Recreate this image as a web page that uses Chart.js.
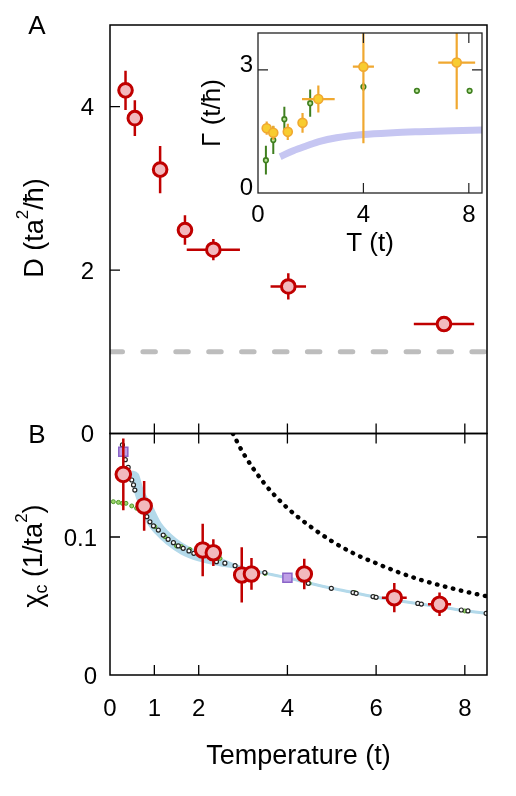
<!DOCTYPE html>
<html>
<head>
<meta charset="utf-8">
<script src="https://cdn.jsdelivr.net/npm/chart.js@4.4.0/dist/chart.umd.min.js"></script>
<style>
  html, body { margin: 0; padding: 0; background: #fff; }
  #wrap { position: relative; width: 516px; height: 796px; }
  canvas { position: absolute; left: 0; top: 0; }
</style>
</head>
<body>
<div id="wrap">
  <canvas id="panel-b" width="516" height="796"></canvas>
  <canvas id="panel-a" width="516" height="796"></canvas>
  <canvas id="inset" width="516" height="796"></canvas>
</div>
<script>
// ---- panel A: D vs temperature ----
const diffT    = [0.35, 0.56, 1.13, 1.69, 2.33, 4.02, 7.53];
const diffD    = [4.20, 3.86, 3.23, 2.49, 2.25, 1.80, 1.34];
const diffErrT = [0, 0, 0, 0, 0.60, 0.40, 0.68];
const diffErrD = [0.24, 0.22, 0.29, 0.18, 0.13, 0.16, 0.04];
const limitT   = [0, 8.5];
const limitD   = [1, 1];
const diffTicks = [0, 2, 4];

// ---- inset: Gamma vs T ----
const rateT     = [0.33, 0.58, 1.13, 1.69, 2.29, 4.00, 7.54];
const rate      = [1.58, 1.47, 1.49, 1.71, 2.29, 3.08, 3.18];
const rateErrT  = [0, 0, 0, 0, 0.62, 0.40, 0.70];
const rateErr   = [0.16, 0.17, 0.20, 0.24, 0.33, 1.87, 1.14];
const simRateT  = [0.30, 0.58, 1.00, 1.98, 4.00, 6.03, 8.03];
const simRate   = [0.80, 1.29, 1.80, 2.19, 2.59, 2.49, 2.49];
const simRateErr = [0.35, 0.34, 0.30, 0.33, 0.10, 0.05, 0.03];
const bandRateT = [0.84, 1.34, 1.85, 2.35, 2.98, 3.99, 5.13, 6.14, 7.40, 8.50];
const bandRate  = [0.885, 1.03, 1.15, 1.26, 1.345, 1.425, 1.47, 1.495, 1.52, 1.535];
const insetTicksT = [0, 4, 8];
const insetTicksG = [0, 3];

// ---- panel B: chi_c vs temperature ----
const chiT    = [0.30, 0.77, 2.09, 2.33, 2.97, 3.19, 4.38, 6.41, 7.43];
const chi     = [0.1454, 0.1225, 0.0906, 0.0886, 0.0725, 0.0732, 0.0732, 0.0560, 0.0512];
const chiErrT = [0, 0, 0, 0, 0, 0, 0.19, 0.28, 0.26];
const chiErr  = [0.026, 0.018, 0.019, 0.0097, 0.020, 0.0115, 0.011, 0.0106, 0.0085];
const sqT     = [0.30, 4.00];
const sqChi   = [0.1618, 0.0705];
const curieT  = [2.77, 3.0, 3.5, 4.0, 4.5, 5.0, 5.5, 6.0, 6.5, 7.0, 7.5, 8.0, 8.5];
const curie   = [0.175, 0.161, 0.138, 0.121, 0.108, 0.097, 0.088, 0.081, 0.0745, 0.069, 0.0645, 0.0605, 0.057];
const qmcT    = [0.28, 0.32, 0.345, 0.41, 0.49, 0.53, 0.56, 0.83, 0.90, 0.98, 1.09, 1.20, 1.31, 1.43, 1.54, 1.65, 1.78, 1.89,
                 2.40, 2.59, 2.82, 3.23, 3.49, 4.47, 4.99, 5.48, 5.55, 5.93, 6.00, 6.94, 7.02, 7.92, 8.07, 8.48];
const qmc     = [0.1667, 0.163, 0.156, 0.1505, 0.1413, 0.1377, 0.134, 0.1147, 0.111, 0.108, 0.105, 0.1014, 0.0983, 0.0959, 0.0935, 0.0918, 0.0899, 0.0882,
                 0.0821, 0.081, 0.0792, 0.0761, 0.0742, 0.0664, 0.0628, 0.0597, 0.0592, 0.0568, 0.0563, 0.0519, 0.0514, 0.0471, 0.0464, 0.0447];
const nlceT   = [0.075, 0.19, 0.28, 0.36, 0.49, 0.60, 1.01, 1.24, 1.50, 1.61, 1.80, 2.48, 3.50, 4.49, 5.52, 5.97, 8.00];
const nlce    = [0.1256, 0.1251, 0.1244, 0.1244, 0.1225, 0.1208, 0.1075, 0.1002, 0.0935, 0.093, 0.091, 0.0845, 0.0735, 0.0664, 0.0597, 0.0565, 0.0464];
const bandHiT = [0.49, 0.62, 0.73, 0.94, 1.13, 1.50, 1.88, 2.25, 2.60, 3.0, 3.5, 4.0, 4.5, 5.0, 5.5, 6.0, 6.5, 7.0, 7.5, 8.0, 8.5];
const bandHi  = [0.1473, 0.1455, 0.134, 0.122, 0.110, 0.0978, 0.0906, 0.087, 0.0825, 0.0778, 0.0740, 0.0706, 0.0667, 0.0630, 0.0598, 0.0566, 0.0540, 0.0516, 0.0493, 0.0468, 0.0448];
const bandLoT = [0.49, 0.56, 0.69, 0.86, 1.04, 1.28, 1.61, 1.99, 2.48, 3.0, 3.5, 4.0, 4.5, 5.0, 5.5, 6.0, 6.5, 7.0, 7.5, 8.0, 8.5];
const bandLo  = [0.1449, 0.134, 0.122, 0.110, 0.1027, 0.0954, 0.0882, 0.0833, 0.0797, 0.0772, 0.0736, 0.0702, 0.0663, 0.0626, 0.0594, 0.0562, 0.0536, 0.0512, 0.0489, 0.0464, 0.0444];
const tempTicks = [0, 1, 2, 4, 6, 8];
const chiTicks  = [0, 0.1];

const FONT = '"Liberation Sans", Arial, sans-serif';
Chart.defaults.font.family = FONT;
Chart.defaults.color = '#000';

function pts(xs, ys) {
    return xs.map((v, i) => ({x: v, y: ys[i]}));
}

function fixedTicks(list) {
    return (scale) => { scale.ticks = list.map(v => ({value: v})); };
}

// error bars are drawn right before their own dataset so the marker covers them
var errorBars = {
    id: 'errorBars',
    beforeDatasetDraw(chart, args) {
        var ds = chart.data.datasets[args.index];
        if (!ds.errX && !ds.errY) return;
        var ctx = chart.ctx, a = chart.chartArea, x = chart.scales.x, y = chart.scales.y;
        ctx.save();
        ctx.beginPath();
        ctx.rect(a.left, a.top, a.right - a.left, a.bottom - a.top);
        ctx.clip();
        ctx.strokeStyle = ds.errColor;
        ctx.lineWidth = ds.errWidth;
        ctx.beginPath();
        ds.data.forEach((p, i) => {
            var px = x.getPixelForValue(p.x), py = y.getPixelForValue(p.y);
            var ex = ds.errX ? ds.errX[i] : 0, ey = ds.errY ? ds.errY[i] : 0;
            if (ey) { ctx.moveTo(px, y.getPixelForValue(p.y - ey)); ctx.lineTo(px, y.getPixelForValue(p.y + ey)); }
            if (ex) { ctx.moveTo(x.getPixelForValue(p.x - ex), py); ctx.lineTo(x.getPixelForValue(p.x + ex), py); }
        });
        ctx.stroke();
        ctx.restore();
    }
};

// box around the plot plus inward tick marks
function frame(cfg) {
    return {
        id: 'frame',
        afterDatasetsDraw(chart) {
            var ctx = chart.ctx, a = chart.chartArea, x = chart.scales.x, y = chart.scales.y;
            ctx.save();
            ctx.strokeStyle = cfg.color;
            ctx.lineWidth = cfg.width;
            ctx.strokeRect(a.left, a.top, a.right - a.left, a.bottom - a.top);
            ctx.lineWidth = cfg.tickWidth;
            ctx.beginPath();
            cfg.xTicks.forEach(v => {
                if (v <= x.min || v >= x.max) return;
                var px = x.getPixelForValue(v);
                if (cfg.xSides.includes('bottom')) { ctx.moveTo(px, a.bottom); ctx.lineTo(px, a.bottom - cfg.len); }
                if (cfg.xSides.includes('top')) { ctx.moveTo(px, a.top); ctx.lineTo(px, a.top + cfg.len); }
            });
            cfg.yTicks.forEach(v => {
                if (v <= y.min || v >= y.max) return;
                var py = y.getPixelForValue(v);
                if (cfg.ySides.includes('left')) { ctx.moveTo(a.left, py); ctx.lineTo(a.left + cfg.len, py); }
                if (cfg.ySides.includes('right')) { ctx.moveTo(a.right, py); ctx.lineTo(a.right - cfg.len, py); }
            });
            ctx.stroke();
            ctx.restore();
        }
    };
}

function panelLetter(letter, px, py) {
    return {
        id: 'letter',
        afterDraw(chart) {
            var ctx = chart.ctx;
            ctx.save();
            ctx.font = '26px ' + FONT;
            ctx.fillStyle = '#000';
            ctx.textAlign = 'center';
            ctx.textBaseline = 'middle';
            ctx.fillText(letter, px, py);
            ctx.restore();
        }
    };
}

// rotated y title with sub/superscripts, which a scale title cannot do
function richYTitle(parts, cx, cy) {
    return {
        id: 'richYTitle',
        afterDraw(chart) {
            var ctx = chart.ctx;
            ctx.save();
            ctx.translate(cx, cy);
            ctx.rotate(-Math.PI / 2);
            ctx.fillStyle = '#000';
            ctx.textBaseline = 'alphabetic';
            var total = 0;
            parts.forEach(p => { ctx.font = p.size + 'px ' + FONT; p.w = ctx.measureText(p.t).width; total += p.w; });
            var x = -total / 2;
            parts.forEach(p => { ctx.font = p.size + 'px ' + FONT; ctx.fillText(p.t, x, 9.4 + p.dy); x += p.w; });
            ctx.restore();
        }
    };
}

function yAxis(min, max, ticks, width, extra) {
    return Object.assign({
        type: 'linear', min: min, max: max,
        afterBuildTicks: fixedTicks(ticks),
        afterFit: (s) => { s.width = width; s.paddingTop = 0; s.paddingBottom = 0; },
        grid: {display: false, drawTicks: false},
        border: {display: false}
    }, extra);
}

function xAxis(min, max, ticks, height, extra) {
    return Object.assign({
        type: 'linear', min: min, max: max,
        afterBuildTicks: fixedTicks(ticks),
        afterFit: (s) => { s.height = height; s.paddingLeft = 0; s.paddingRight = 0; },
        grid: {display: false, drawTicks: false},
        border: {display: false}
    }, extra);
}

var common = {
    responsive: false,
    animation: false,
    events: [],
    plugins: {legend: {display: false}, tooltip: {enabled: false}}
};

function makePanelA() {
    new Chart(document.getElementById('panel-a'), {
        type: 'scatter',
        data: {datasets: [
            {data: pts(diffT, diffD), pointRadius: 6.8, pointBorderWidth: 3,
             pointBackgroundColor: '#f2b9bd', pointBorderColor: '#c00000',
             errX: diffErrT, errY: diffErrD, errColor: '#c00000', errWidth: 2.5},
            {data: pts(limitT, limitD), showLine: true, pointRadius: 0,
             borderColor: '#bdbdbd', borderWidth: 5, borderDash: [12.5, 20.4],
             borderDashOffset: 0, borderCapStyle: 'round'}
        ]},
        options: Object.assign({}, common, {
            layout: {padding: {left: 0, top: 25, right: 29, bottom: 362.5}},
            scales: {
                x: {type: 'linear', min: 0, max: 8.5, display: false},
                y: yAxis(0, 5, diffTicks, 110, {
                    ticks: {padding: 16, labelOffset: 2, font: {size: 24}}
                })
            }
        }),
        plugins: [errorBars,
                  frame({color: '#000', width: 1.5, tickWidth: 1.3, len: 10,
                         xTicks: tempTicks, xSides: ['bottom'], yTicks: diffTicks, ySides: ['left']}),
                  panelLetter('A', 37, 27),
                  richYTitle([{t: 'D (ta', size: 27, dy: 0}, {t: '2', size: 17, dy: -15},
                              {t: '/ħ)', size: 27, dy: 0}], 34, 228)]
    });
}

function makeInset() {
    new Chart(document.getElementById('inset'), {
        type: 'scatter',
        data: {datasets: [
            {data: pts(rateT, rate), pointRadius: 4.5, pointBorderWidth: 1.6,
             pointBackgroundColor: '#f8cc30', pointBorderColor: '#f0a830',
             errX: rateErrT, errY: rateErr, errColor: '#f0a830', errWidth: 2.2},
            {data: pts(simRateT, simRate), pointRadius: 2.3, pointBorderWidth: 1.6,
             pointBackgroundColor: '#b9e49a', pointBorderColor: '#3f7f1f',
             errY: simRateErr, errColor: '#3f7f1f', errWidth: 2},
            {data: pts(bandRateT, bandRate), showLine: true, pointRadius: 0,
             borderColor: '#c6c6f2', borderWidth: 7, borderCapStyle: 'butt',
             cubicInterpolationMode: 'monotone'}
        ]},
        options: Object.assign({}, common, {
            layout: {padding: {left: 190, top: 33, right: 34, bottom: 533}},
            scales: {
                x: xAxis(0, 8.5, insetTicksT, 70, {
                    ticks: {padding: 7.5, font: {size: 24}},
                    title: {display: true, text: 'T (t)', font: {size: 26}, padding: {top: 0, bottom: 3.4}}
                }),
                y: yAxis(0, 3.9, insetTicksG, 68, {
                    ticks: {padding: 5, labelOffset: -5, font: {size: 24}},
                    title: {display: true, text: 'Γ (t/ħ)', font: {size: 26}, padding: {top: 7.4, bottom: 0}}
                })
            }
        }),
        plugins: [errorBars,
                  frame({color: '#222', width: 1.3, tickWidth: 1.2, len: 10,
                         xTicks: insetTicksT, xSides: ['bottom', 'top'], yTicks: insetTicksG, ySides: ['left', 'right']})]
    });
}

function makePanelB() {
    var band = '#b3d9ea';
    new Chart(document.getElementById('panel-b'), {
        type: 'scatter',
        data: {datasets: [
            {data: pts(chiT, chi), pointRadius: 7.3, pointBorderWidth: 3,
             pointBackgroundColor: '#f2b9bd', pointBorderColor: '#c00000',
             errX: chiErrT, errY: chiErr, errColor: '#c00000', errWidth: 2.5},
            {data: pts(sqT, sqChi), pointStyle: 'rect', pointRadius: 6.4, pointBorderWidth: 1.5,
             pointBackgroundColor: '#bfa0e6', pointBorderColor: '#8a64c8'},
            {data: pts(curieT, curie), showLine: true, pointRadius: 0, borderColor: '#000',
             borderWidth: 4.4, borderDash: [0.5, 7.7], borderCapStyle: 'round',
             cubicInterpolationMode: 'monotone'},
            {data: pts(qmcT, qmc), pointRadius: 2.0, pointBorderWidth: 1.2,
             pointBackgroundColor: '#ffffff', pointBorderColor: '#222'},
            {data: pts(nlceT, nlce), pointRadius: 2.0, pointBorderWidth: 1,
             pointBackgroundColor: '#9bd46a', pointBorderColor: '#4f9a2a'},
            {data: pts(bandHiT, bandHi), showLine: true, pointRadius: 0, borderColor: band,
             borderWidth: 2.5, backgroundColor: band, fill: '+1', cubicInterpolationMode: 'monotone'},
            {data: pts(bandLoT, bandLo), showLine: true, pointRadius: 0, borderColor: band,
             borderWidth: 2.5, fill: false, cubicInterpolationMode: 'monotone'}
        ]},
        options: Object.assign({}, common, {
            layout: {padding: {left: 0, top: 433.5, right: 29, bottom: 21}},
            scales: {
                x: xAxis(0, 8.5, tempTicks, 100, {
                    ticks: {padding: 20, font: {size: 24}},
                    title: {display: true, text: 'Temperature (t)', font: {size: 27}, padding: {top: 0, bottom: 2.5}}
                }),
                y: yAxis(0, 0.175, chiTicks, 110, {
                    ticks: {padding: 13, labelOffset: 2, font: {size: 24}}
                })
            }
        }),
        plugins: [errorBars,
                  frame({color: '#000', width: 1.5, tickWidth: 1.3, len: 10,
                         xTicks: tempTicks, xSides: ['bottom', 'top'], yTicks: chiTicks, ySides: ['left', 'right']}),
                  panelLetter('B', 37, 436),
                  richYTitle([{t: 'χ', size: 27, dy: 0}, {t: 'c', size: 18, dy: 5},
                              {t: ' (1/ta', size: 27, dy: 0}, {t: '2', size: 17, dy: -15},
                              {t: ')', size: 27, dy: 0}], 33, 556)]
    });
}

document.addEventListener('DOMContentLoaded', function() {
    makePanelB();
    makePanelA();
    makeInset();
});
</script>
</body>
</html>
